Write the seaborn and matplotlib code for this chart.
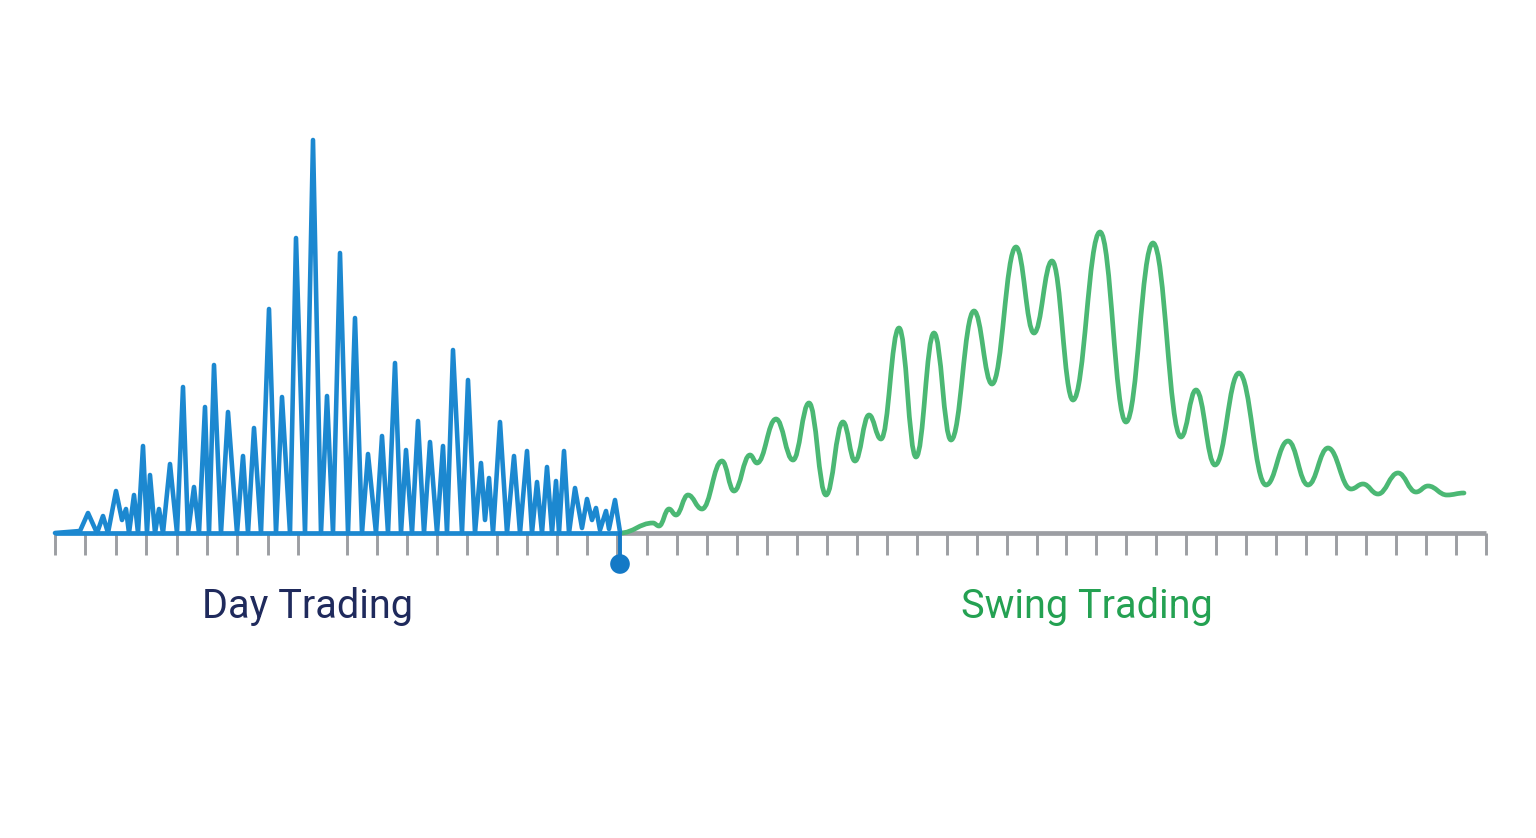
import numpy as np
import pandas as pd
import matplotlib
matplotlib.use("Agg")
import matplotlib.pyplot as plt
from matplotlib.path import Path
from matplotlib.patches import PathPatch
import seaborn as sns

# ---------------- data ----------------
day_time = [55, 80, 88, 97, 103, 108, 116, 122, 126, 129, 134, 138, 143, 147, 150, 155,
            159, 163, 170, 177, 183, 188, 194, 199, 205, 209, 214, 221, 228, 237, 243, 248,
            254, 261, 269, 276, 282, 290, 296, 305, 313, 321, 327, 333, 340, 348, 355, 362,
            368, 376, 382, 388, 395, 401, 406, 412, 418, 424, 430, 437, 443, 447, 453, 462,
            468, 475, 481, 485, 489, 493, 500, 507, 514, 520, 527, 532, 537, 542, 547, 552,
            556, 559, 564, 569, 575, 582, 587, 592, 596, 600, 606, 609, 615, 620]
day_activity = [0, 2, 20, 0, 17, 0, 42, 13, 24, 0, 38, 0, 87, 0, 58, 0,
                24, 0, 69, 0, 146, 0, 46, 0, 126, 0, 168, 0, 121, 0, 77, 0,
                105, 0, 224, 0, 136, 0, 295, 0, 393, 0, 137, 0, 280, 0, 215, 0,
                79, 0, 97, 0, 170, 0, 83, 0, 112, 0, 91, 0, 87, 0, 183, 0,
                153, 0, 70, 13, 55, 0, 111, 0, 77, 0, 82, 0, 51, 0, 66, 0,
                52, 0, 82, 0, 45, 5, 34, 13, 25, 3, 22, 4, 33, 1]

swing_time = [620, 653, 659, 669, 676, 688, 702, 722, 734, 750, 757, 776, 793, 809, 826,
              843, 855, 869, 881, 899, 916, 934, 951, 974, 992, 1016, 1034, 1052, 1073,
              1100, 1126, 1153, 1181, 1196, 1215, 1239, 1266, 1288, 1308, 1328, 1351,
              1363, 1378, 1398, 1416, 1428, 1447, 1464]
swing_activity = [0, 10, 7, 24, 18, 38, 24, 72, 42, 78, 70, 114, 73, 130, 38,
                  111, 72, 118, 94, 205, 76, 200, 93, 222, 149, 286, 200, 272, 133,
                  301, 111, 290, 96, 143, 68, 160, 48, 92, 48, 85, 44,
                  49, 39, 60, 41, 47, 38, 40]

labels = ["Day Trading", "Swing Trading"]
split_time = 620

# ---------------- style ----------------
BLUE = "#1c88d0"
DOT_BLUE = "#1479c6"
GREEN = "#4bb874"
GRAY = "#9c9ea3"
NAVY = "#1f2a5c"
LABEL_GREEN = "#24a152"

sns.set_theme(style="white")
plt.rcParams["font.family"] = ["Roboto", "DejaVu Sans"]

fig = plt.figure(figsize=(15.36, 8.38), dpi=100, facecolor="white")
ax = fig.add_axes([0, 0, 1, 1])
ax.set_xlim(0, 1536)
ax.set_ylim(-305, 533)
ax.axis("off")

# axis baseline (gray) and ticks
x_end = 1486
ax.plot([split_time, x_end], [0, 0], color=GRAY, lw=3.4, solid_capstyle="butt", zorder=1)
ticks = np.concatenate([np.linspace(55, 298, 9), np.linspace(347.3, x_end, 39)])
ax.vlines(ticks, -22, 0, color=GRAY, lw=2.1, zorder=1)

# swing trading: smooth curve through the read extrema (bezier path)
verts = [(swing_time[0], swing_activity[0])]
codes = [Path.MOVETO]
for i in range(1, len(swing_time)):
    x0, y0 = swing_time[i - 1], swing_activity[i - 1]
    x1, y1 = swing_time[i], swing_activity[i]
    dx = x1 - x0
    verts += [(x0 + 0.42 * dx, y0), (x1 - 0.42 * dx, y1), (x1, y1)]
    codes += [Path.CURVE4] * 3
ax.add_patch(PathPatch(Path(verts, codes), facecolor="none", edgecolor=GREEN,
                       lw=3.4, capstyle="round", joinstyle="round", zorder=3))

# day trading: spiky series + blue baseline
ax.plot([day_time[0], split_time], [0, 0], color=BLUE, lw=3.4, solid_capstyle="butt", zorder=4)
day_df = pd.DataFrame({"time": day_time, "activity": day_activity})
sns.lineplot(data=day_df, x="time", y="activity", estimator=None, sort=False,
             color=BLUE, lw=3.3, ax=ax, zorder=5)
ax.lines[-1].set_solid_joinstyle("round")

# split marker
ax.plot([split_time, split_time], [0, -31], color=DOT_BLUE, lw=2.8, zorder=5)
sns.scatterplot(x=[split_time], y=[-31], s=200, color=DOT_BLUE, edgecolor="none",
                ax=ax, zorder=6)

# labels
ax.text(307, -74, labels[0], ha="center", va="center", fontsize=28.5, color=NAVY)
ax.text(1087, -74, labels[1], ha="center", va="center", fontsize=28.5, color=LABEL_GREEN)

ax.set_xlabel("")
ax.set_ylabel("")
fig.savefig("out.png", dpi=100, facecolor="white")
